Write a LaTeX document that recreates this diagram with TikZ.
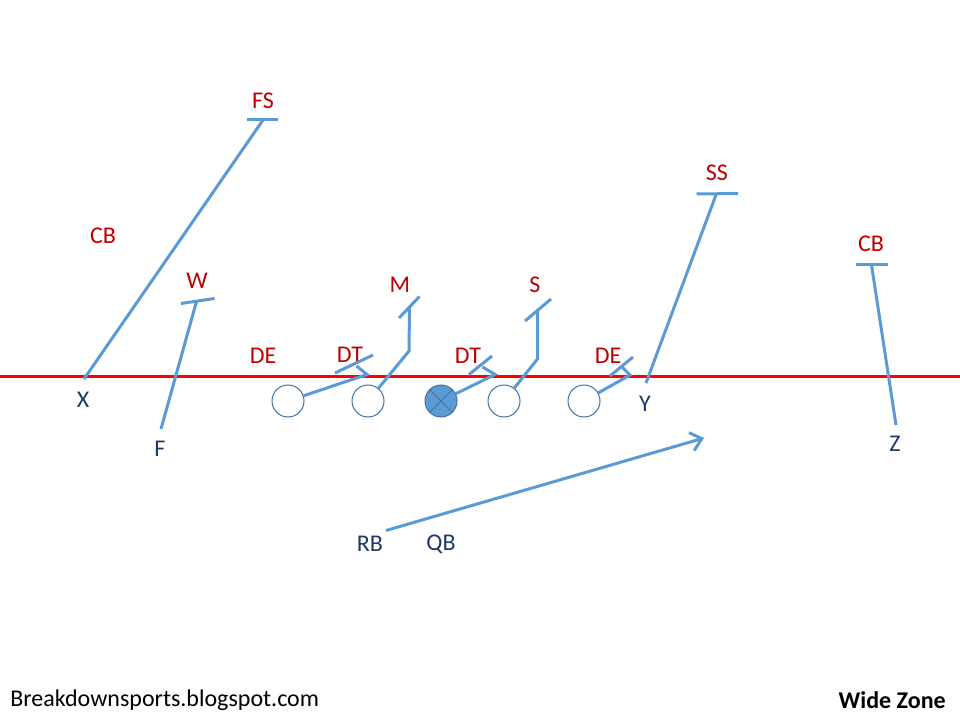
\documentclass[tikz,border=0pt]{standalone}
\usepackage{fontspec}
\setmainfont{Carlito}
\usetikzlibrary{arrows.meta}
\definecolor{defred}{HTML}{C00000}
\definecolor{offblue}{HTML}{1F3864}
\definecolor{routeblue}{HTML}{5B9BD5}
\definecolor{ringblue}{HTML}{41719C}
\definecolor{linered}{HTML}{FF0000}
\tikzset{
  deflbl/.style={text=defred,font=\fontsize{18}{21}\selectfont,inner sep=0pt},
  offlbl/.style={text=offblue,font=\fontsize{18}{21}\selectfont,inner sep=0pt},
  lineman/.style={circle,draw=ringblue,line width=0.75pt,fill=white,minimum size=24pt,inner sep=0pt},
  center/.style={lineman,fill=routeblue},
  route/.style={draw=routeblue,line width=2.25pt},
  foot/.style={text=black,font=\fontsize{18}{21}\selectfont,inner sep=0pt}
}
\begin{document}
\begin{tikzpicture}[x=0.75pt,y=-0.75pt]
\useasboundingbox (0,0) rectangle (960,720);
\fill[white] (0,0) rectangle (960,720);
% line of scrimmage
\coordinate (losL) at (0,376);
\coordinate (losR) at (960,376);
\draw[linered,line width=2.25pt] (losL) -- (losR);
% offensive line
\node[lineman] (c1) at (288,401) {};
\node[lineman] (c2) at (368,401) {};
\node[center] (qc) at (441,401) {};
\draw[ringblue,line width=0.6pt] (qc.45) -- (qc.225) (qc.135) -- (qc.315);
\node[lineman] (c4) at (504,401) {};
\node[lineman] (c5) at (584,401) {};
% defensive labels
\node[deflbl] (fs) at (263,101) {FS};
\node[deflbl] (cbl) at (103,236) {CB};
\node[deflbl] (w) at (197,281) {W};
\node[deflbl] (del) at (263,356) {DE};
\node[deflbl] (dtl) at (350,355) {DT};
\node[deflbl] (m) at (400,285) {M};
\node[deflbl] (dtr) at (468,356) {DT};
\node[deflbl] (s) at (535,285) {S};
\node[deflbl] (der) at (608,356) {DE};
\node[deflbl] (ss) at (717,173) {SS};
\node[deflbl] (cbr) at (871,244) {CB};
% offensive labels
\node[offlbl] (x) at (83,400) {X};
\node[offlbl] (f) at (160,449) {F};
\node[offlbl] (y) at (645,404) {Y};
\node[offlbl] (z) at (895,444) {Z};
\node[offlbl] (rb) at (370,544) {RB};
\node[offlbl] (qb) at (441,544) {QB};
% footer
\node[foot,anchor=west] (site) at (10,700) {Breakdownsports.blogspot.com};
\node[foot,anchor=east,font=\fontsize{18}{21}\selectfont\bfseries] (title) at (946,700) {Wide Zone};
% X route to FS
\coordinate (xs) at (84,379);
\coordinate (fsb) at (263,120);
\coordinate (fsbl) at (247,119.5);
\coordinate (fsbr) at (278,119.5);
\draw[route] (xs) -- (fsb);
\draw[route] (fsbl) -- (fsbr);
% F route to W
\coordinate (fs0) at (161,429);
\coordinate (wb) at (196.5,301.5);
\coordinate (wbl) at (181,303.5);
\coordinate (wbr) at (214.5,298.5);
\draw[route] (fs0) -- (wb);
\draw[route] (wbl) -- (wbr);
% c1 block on DT
\coordinate (b1) at (367,374.5);
\coordinate (b1s) at (356.5,366);
\coordinate (b1l) at (335,373);
\coordinate (b1r) at (373,355);
\draw[route] (c1) -- (b1) -- (b1s);
\draw[route] (b1l) -- (b1r);
% c2 climb to M
\coordinate (b2a) at (409,351);
\coordinate (b2b) at (409.5,307.5);
\coordinate (b2l) at (399,318);
\coordinate (b2r) at (419.5,296.5);
\draw[route] (c2) -- (b2a) -- (b2b);
\draw[route] (b2l) -- (b2r);
% center block on DT
\coordinate (b3) at (495,374.5);
\coordinate (b3s) at (482.5,367);
\coordinate (b3l) at (469,374.5);
\coordinate (b3r) at (492,356);
\draw[route] (qc) -- (b3) -- (b3s);
\draw[route] (b3l) -- (b3r);
% c4 climb to S
\coordinate (b4a) at (537.5,359);
\coordinate (b4b) at (537.5,309.5);
\coordinate (b4l) at (525,321);
\coordinate (b4r) at (551,299);
\draw[route] (c4) -- (b4a) -- (b4b);
\draw[route] (b4l) -- (b4r);
% c5 block on DE
\coordinate (b5) at (630,375);
\coordinate (b5s) at (621.5,366.5);
\coordinate (b5l) at (610,376);
\coordinate (b5r) at (633,357);
\draw[route] (c5) -- (b5) -- (b5s);
\draw[route] (b5l) -- (b5r);
% Y route to SS
\coordinate (ys) at (646,383);
\coordinate (ssb) at (716.5,193.5);
\coordinate (ssbl) at (696.5,194);
\coordinate (ssbr) at (738,193.5);
\draw[route] (ys) -- (ssb);
\draw[route] (ssbl) -- (ssbr);
% Z route to CB
\coordinate (zs) at (896,425);
\coordinate (cbb) at (871.5,265);
\coordinate (cbbl) at (855.5,264.5);
\coordinate (cbbr) at (887.5,264.5);
\draw[route] (zs) -- (cbb);
\draw[route] (cbbl) -- (cbbr);
% RB path
\coordinate (rbs) at (386,530.5);
\coordinate (rbe) at (704,438);
\draw[route,-{Straight Barb[length=8pt,width=14pt,line width=2.25pt]}] (rbs) -- (rbe);
\end{tikzpicture}
\end{document}
